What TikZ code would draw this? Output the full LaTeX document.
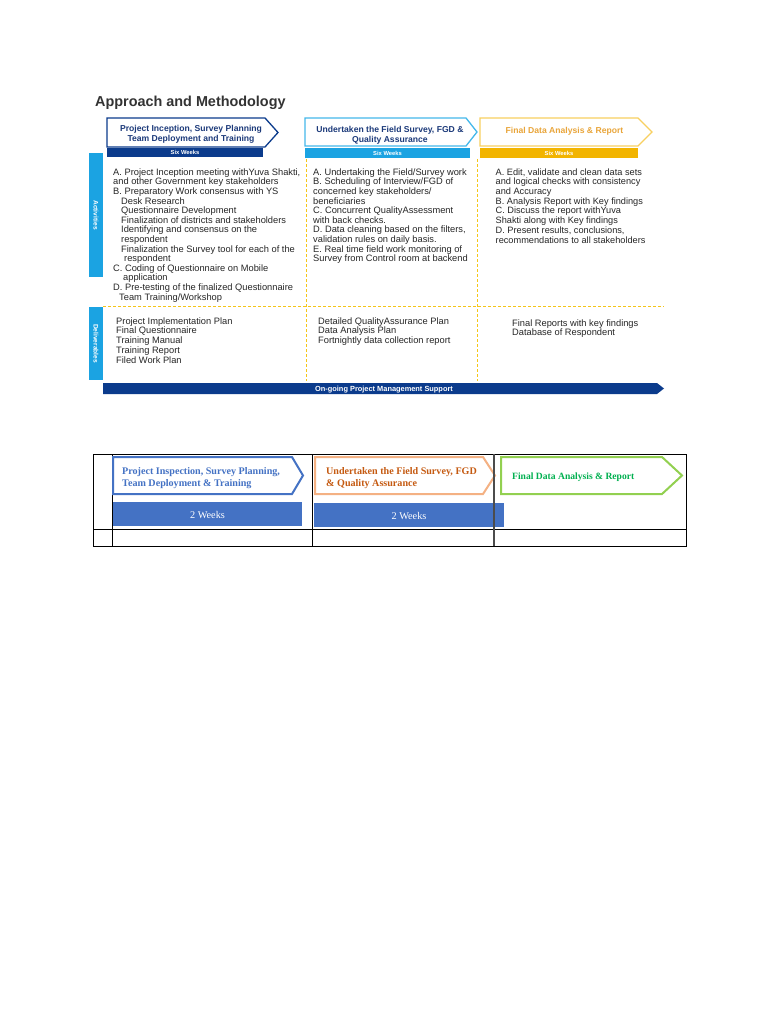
\documentclass[tikz,border=0pt]{standalone}
\usepackage{fontspec}
\setmainfont{Liberation Sans}
\newfontfamily\serifw{Liberation Serif}
\definecolor{navy}{HTML}{0B3B8C}
\definecolor{navytext}{HTML}{1C3A7A}
\definecolor{lblue}{HTML}{1BA3E2}
\definecolor{lblueb}{HTML}{44B8EA}
\definecolor{goldbar}{HTML}{F2B400}
\definecolor{goldb}{HTML}{F8D060}
\definecolor{goldtext}{HTML}{E9A53A}
\definecolor{dashy}{HTML}{F5C518}
\definecolor{bodytext}{HTML}{262626}
\definecolor{titlec}{HTML}{333333}
\definecolor{wblue}{HTML}{4472C4}
\definecolor{worangeb}{HTML}{F4B183}
\definecolor{worange}{HTML}{C55A11}
\definecolor{wgreenb}{HTML}{92D050}
\definecolor{wgreen}{HTML}{00B050}
\newcommand\fsz[2]{\fontsize{#1}{#2}\selectfont}
\begin{document}
\begin{tikzpicture}[x=1pt,y=-1pt,
  body/.style={anchor=north west, align=left, inner sep=0pt, text=bodytext, font=\fsz{9.3}{9.6}},
  deliv/.style={anchor=north west, align=left, inner sep=0pt, text=bodytext, font=\fsz{9.3}{9.7}},
  chevtext/.style={anchor=north, align=center, inner sep=0pt, font=\bfseries\fsz{8.6}{10.3}},
  bartext/.style={anchor=base, inner sep=0pt, text=white, font=\bfseries\fsz{5.8}{7}},
  sidetext/.style={rotate=-90, inner sep=0pt, text=white, font=\bfseries\fsz{6.6}{7}},
  dashline/.style={draw=dashy, line width=1pt, dash pattern=on 3pt off 2pt},
  wchev/.style={line width=2pt, fill=white},
  wtext/.style={anchor=north west, align=left, inner sep=0pt, font=\serifw\bfseries\fsz{10.1}{11.5}},
  wbartext/.style={anchor=base, inner sep=0pt, text=white, font=\serifw\fsz{10.3}{12}},
  tabline/.style={draw=black, line width=0.9pt}]
\useasboundingbox[fill=white] (0,0) rectangle (768,1024);

% ---------- upper picture ----------
\node[anchor=base west, inner sep=0pt, text=titlec, font=\bfseries\fsz{14.4}{17}] (title) at (95,107) {Approach and Methodology};

% chevrons
\draw[draw=navy, line width=1.3pt, fill=white] (107,118) -- (265,118) -- (278,132.5) -- (265,147) -- (107,147) -- cycle;
\draw[draw=lblueb, line width=1.3pt, fill=white] (305,118) -- (466,118) -- (477,132) -- (466,146) -- (305,146) -- cycle;
\draw[draw=goldb, line width=1.3pt, fill=white] (480,118) -- (638,118) -- (652,132) -- (638,146) -- (480,146) -- cycle;
\node[chevtext, text=navytext] (c1) at (191,125.2) {Project Inception, Survey Planning\\Team Deployment and Training};
\node[chevtext, text=navytext] (c2) at (390,125.7) {Undertaken the Field Survey, FGD \&\\Quality Assurance};
\node[anchor=base, inner sep=0pt, text=goldtext, font=\bfseries\fsz{8.6}{10.3}] (c3) at (564.5,134) {Final Data Analysis \& Report};

% bars
\fill[navy] (107,148) rectangle (263,157);
\fill[lblue] (305,148) rectangle (470,158);
\fill[goldbar] (480,148) rectangle (638,158);
\node[bartext] (b1) at (185,154.7) {Six Weeks};
\node[bartext] (b2) at (387.5,155.2) {Six Weeks};
\node[bartext] (b3) at (559,155.2) {Six Weeks};

% side labels
\fill[lblue] (89,153) rectangle (103,277);
\fill[lblue] (89,307) rectangle (103,380);
\node[sidetext] (act) at (96,215) {Activities};
\node[sidetext] (del) at (96,343.5) {Deliverables};

% dashed separators
\draw[dashline] (103,306.5) -- (664,306.5);
\draw[dashline] (306,159) -- (306,381);
\draw[dashline] (477,159) -- (477,381);

% activities
\node[body] (a1) at (113,168.3) {A. Project Inception meeting withYuva Shakti,\\
and other Government key stakeholders\\
B. Preparatory Work consensus with YS\\
\hspace*{8pt}Desk Research\\
\hspace*{8pt}Questionnaire Development\\
\hspace*{8pt}Finalization of districts and stakeholders\\
\hspace*{8pt}Identifying and consensus on the\\
\hspace*{8pt}respondent\\
\hspace*{8pt}Finalization the Survey tool for each of the\\
\hspace*{11pt}respondent\\
C. Coding of Questionnaire on Mobile\\
\hspace*{10pt}application\\
D. Pre-testing of the finalized Questionnaire\\
\hspace*{6pt}Team Training/Workshop};

\node[body] (a2) at (313,168.3) {A. Undertaking the Field/Survey work\\
B. Scheduling of Interview/FGD of\\
concerned key stakeholders/\\
beneficiaries\\
C. Concurrent QualityAssessment\\
with back checks.\\
D. Data cleaning based on the filters,\\
validation rules on daily basis.\\
E. Real time field work monitoring of\\
Survey from Control room at backend};

\node[body, font=\fsz{9.2}{9.7}] (a3) at (495.5,168.3) {A. Edit, validate and clean data sets\\
and logical checks with consistency\\
and Accuracy\\
B. Analysis Report with Key findings\\
C. Discuss the report withYuva\\
Shakti along with Key findings\\
D. Present results, conclusions,\\
recommendations to all stakeholders};

% deliverables
\node[deliv] (d1) at (116,317.3) {Project Implementation Plan\\
Final Questionnaire\\
Training Manual\\
Training Report\\
Filed Work Plan};
\node[deliv] (d2) at (318,317.3) {Detailed QualityAssurance Plan\\
Data Analysis Plan\\
Fortnightly data collection report};
\node[deliv] (d3) at (512,319.3) {Final Reports with key findings\\
Database of Respondent};

% bottom arrow
\fill[navy] (103,383) -- (657,383) -- (664,388.5) -- (657,394) -- (103,394) -- cycle;
\node[anchor=base, inner sep=0pt, text=white, font=\bfseries\fsz{7.4}{9}] (mgmt) at (384,391.6) {On-going Project Management Support};

% ---------- lower table ----------
\draw[tabline] (93,454) rectangle (686,546);
\draw[tabline] (93,529) -- (686,529);
\draw[tabline] (112,454) -- (112,546);
\draw[tabline] (312.5,454) -- (312.5,546);

\draw[wchev, draw=wblue] (113,457) -- (292,457) -- (303,475.5) -- (292,494) -- (113,494) -- cycle;
\draw[wchev, draw=worangeb] (315,457) -- (483,457) -- (495,475.5) -- (483,494) -- (315,494) -- cycle;
\draw[wchev, draw=wgreenb] (501,457) -- (662,457) -- (682,475.5) -- (662,494) -- (501,494) -- cycle;

\node[wtext, text=wblue] (wa) at (122,467.7) {Project Inspection, Survey Planning,\\Team Deployment \& Training};
\node[wtext, text=worange] (wb) at (326,467.7) {Undertaken the Field Survey, FGD\\\& Quality Assurance};
\node[anchor=base west, inner sep=0pt, text=wgreen, font=\serifw\bfseries\fsz{9.6}{11.5}] (wc) at (512,479.5) {Final Data Analysis \& Report};

\fill[wblue] (113,502) rectangle (302,526);
\fill[wblue] (314,503) rectangle (504,527);
\node[wbartext] (w1) at (207.5,518.2) {2 Weeks};
\node[wbartext] (w2) at (409,519.2) {2 Weeks};

\draw[draw=black!70, line width=1.3pt] (494,454) -- (494,546);
\end{tikzpicture}
\end{document}
